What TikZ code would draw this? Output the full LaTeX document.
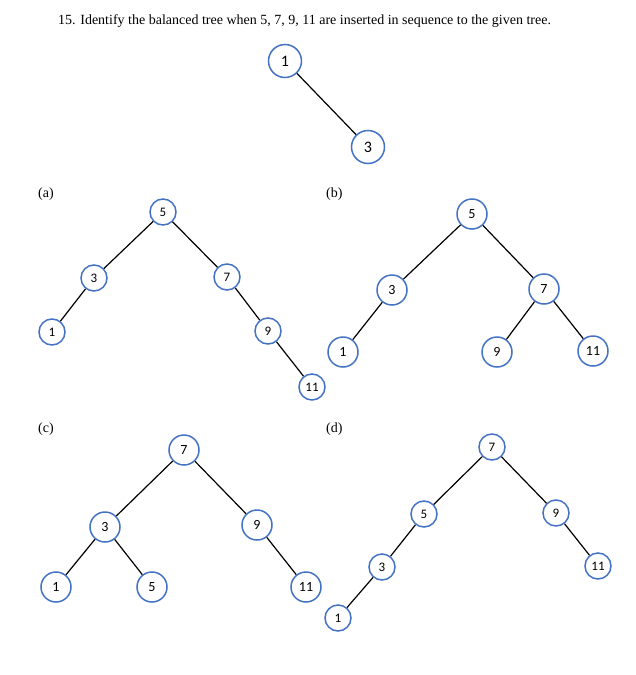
\documentclass[tikz,border=0pt]{standalone}
\usepackage{fontspec}
\setmainfont{Liberation Serif}
\newfontfamily\keyfont{Carlito}
\usepackage{xcolor}
\usepackage{tikz}
\usetikzlibrary{positioning}
\definecolor{keyblue}{HTML}{4472C4}

\begin{document}
\begin{tikzpicture}[
    x=1pt, y=-1pt,
    key/.style={circle, draw=keyblue, line width=1.5pt, inner sep=0pt, fill=white},
    bigkey/.style={key, minimum size=33pt, font=\keyfont\fontsize{16}{18}\selectfont},
    midkey/.style={key, minimum size=30pt, font=\keyfont\fontsize{14}{16}\selectfont},
    smallkey/.style={key, minimum size=26pt, font=\keyfont\fontsize{13}{15}\selectfont},
    link/.style={line width=1.2pt},
    option/.style={anchor=base west, inner sep=0pt, font=\fontsize{14}{16}\selectfont}
]
    \useasboundingbox (0,0) rectangle (636,675);

    % question and given tree
    \node[option] (question) at (58,24) {15. Identify the balanced tree when 5, 7, 9, 11 are inserted in sequence to the given tree.};
    \node[bigkey] (g1) at (285,61) {1};
    \node[bigkey] (g3) at (368,147) {3};
    \draw[link] (g1) -- (g3);

    % option (a)
    \node[option] (opta) at (38,197) {(a)};
    \node[smallkey] (a5) at (163,212) {5};
    \node[smallkey] (a3) at (94,278) {3};
    \node[smallkey] (a7) at (227,277) {7};
    \node[smallkey] (a1) at (52,332) {1};
    \node[smallkey] (a9) at (268,331) {9};
    \node[smallkey] (a11) at (312,387) {11};
    \draw[link] (a5) -- (a3);
    \draw[link] (a5) -- (a7);
    \draw[link] (a3) -- (a1);
    \draw[link] (a7) -- (a9);
    \draw[link] (a9) -- (a11);

    % option (b)
    \node[option] (optb) at (326,197) {(b)};
    \node[midkey] (b5) at (472,214) {5};
    \node[midkey] (b3) at (392,290) {3};
    \node[midkey] (b7) at (544,289) {7};
    \node[midkey] (b1) at (343,352) {1};
    \node[midkey] (b9) at (497,352) {9};
    \node[midkey] (b11) at (593,351) {11};
    \draw[link] (b5) -- (b3);
    \draw[link] (b5) -- (b7);
    \draw[link] (b3) -- (b1);
    \draw[link] (b7) -- (b9);
    \draw[link] (b7) -- (b11);

    % option (c)
    \node[option] (optc) at (38,432) {(c)};
    \node[midkey] (c7) at (184,450) {7};
    \node[midkey] (c3) at (105,527) {3};
    \node[midkey] (c9) at (257,525) {9};
    \node[midkey] (c1) at (56,587) {1};
    \node[midkey] (c5) at (152,587) {5};
    \node[midkey] (c11) at (306,587) {11};
    \draw[link] (c7) -- (c3);
    \draw[link] (c7) -- (c9);
    \draw[link] (c3) -- (c1);
    \draw[link] (c3) -- (c5);
    \draw[link] (c9) -- (c11);

    % option (d)
    \node[option] (optd) at (326,432) {(d)};
    \node[smallkey] (d7) at (492,447) {7};
    \node[smallkey] (d5) at (424,514) {5};
    \node[smallkey] (d9) at (556,513) {9};
    \node[smallkey] (d3) at (382,567) {3};
    \node[smallkey] (d11) at (598,566) {11};
    \node[smallkey] (d1) at (338,618) {1};
    \draw[link] (d7) -- (d5);
    \draw[link] (d7) -- (d9);
    \draw[link] (d5) -- (d3);
    \draw[link] (d3) -- (d1);
    \draw[link] (d9) -- (d11);
\end{tikzpicture}
\end{document}
